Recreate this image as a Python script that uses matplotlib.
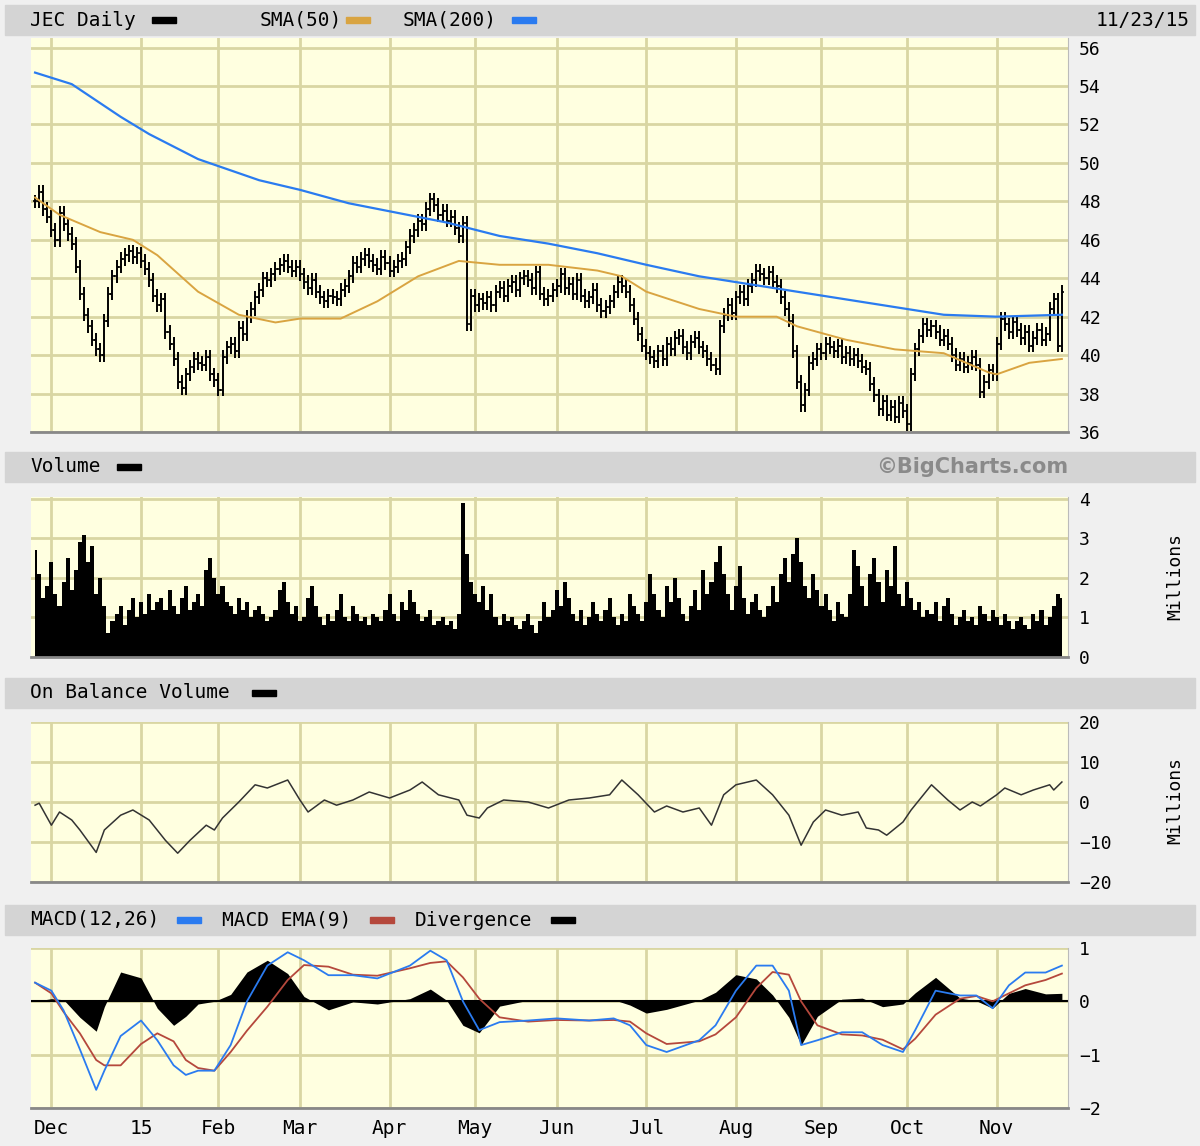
import numpy as np
import matplotlib.pyplot as plt
from matplotlib.patches import Rectangle

# daily closes, index 0 = first bar (late Nov 2014), 252 = 11/23/15
close = [
    48.0, 48.5, 47.6, 47.2, 46.5, 46.0, 47.4, 46.8, 46.3, 45.8,
    44.6, 43.2, 42.1, 41.5, 40.8, 40.3, 40.0, 41.8, 43.2, 44.1,
    44.6, 45.0, 45.2, 45.4, 45.1, 45.3, 44.9, 44.5, 43.9, 43.1,
    42.6, 42.9, 41.2, 40.6, 39.8, 38.6, 38.3, 39.0, 39.4, 39.8,
    39.6, 39.5, 39.9, 39.0, 38.7, 38.2, 39.9, 40.4, 40.6, 40.2,
    41.4, 41.1, 42.0, 42.4, 43.0, 43.4, 44.0, 43.9, 44.2, 44.5,
    44.7, 44.9, 44.6, 44.4, 44.6, 44.2, 43.8, 43.5, 43.9, 43.3,
    43.0, 42.8, 43.1, 43.0, 42.9, 43.4, 43.6, 44.1, 44.8, 44.6,
    45.0, 45.2, 44.9, 44.7, 44.5, 45.1, 44.8, 44.4, 44.6, 44.9,
    45.0, 45.6, 46.2, 46.5, 47.0, 46.8, 47.6, 48.1, 47.8, 47.3,
    47.5, 47.0, 47.2, 46.6, 46.2, 46.9, 41.6, 43.1, 42.6, 42.9,
    42.7, 43.0, 42.6, 43.3, 43.5, 43.1, 43.6, 43.8, 43.4, 44.0,
    44.1, 43.9, 43.5, 44.3, 43.2, 42.9, 43.1, 43.4, 43.6, 44.2,
    43.5, 43.7, 43.2, 43.9, 43.1, 42.8, 43.0, 43.4, 42.6, 42.3,
    42.5, 42.8, 43.3, 43.8, 43.6, 43.3, 42.6, 41.9, 41.1, 40.5,
    40.1, 39.9, 39.7, 40.2, 39.8, 40.6, 40.3, 40.9, 41.0, 40.4,
    40.1, 40.7, 40.9, 40.4, 40.2, 39.8, 39.5, 39.3, 41.5, 42.1,
    42.6, 42.2, 43.0, 43.3, 42.9, 43.6, 43.9, 44.4, 44.2, 44.0,
    44.3, 43.8, 43.6, 43.0, 42.4, 41.8, 40.2, 38.6, 37.4, 38.2,
    39.6, 39.8, 40.3, 40.1, 40.6, 40.4, 40.2, 40.5, 39.9, 40.1,
    39.8, 40.0, 39.7, 39.4, 39.3, 38.5, 37.9, 37.2, 37.6, 36.9,
    37.3, 36.8, 37.5, 37.1, 36.4, 39.0, 40.3, 41.0, 41.6, 41.3,
    41.5, 41.2, 40.8, 41.0, 40.6, 40.0, 39.5, 39.8, 39.4, 39.6,
    39.9, 39.5, 38.1, 38.6, 39.2, 39.0, 40.6, 41.9, 41.6, 41.2,
    41.7, 41.3, 40.9, 41.2, 40.5, 40.9, 41.3, 40.8, 41.1, 42.4,
    42.9, 40.5, 43.3,
]

# daily volume, millions
volume = [
    2.7, 2.1, 1.5, 1.8, 2.4, 1.6, 1.3, 1.9, 2.5, 1.7,
    2.2, 2.9, 3.1, 2.4, 2.8, 1.6, 2.0, 1.3, 0.6, 0.9,
    1.1, 1.3, 0.8, 1.2, 1.5, 1.0, 1.4, 1.1, 1.6, 1.2,
    1.4, 1.5, 1.2, 1.7, 1.3, 1.1, 1.5, 1.8, 1.2, 1.4,
    1.6, 1.3, 2.2, 2.5, 2.0, 1.6, 1.8, 1.4, 1.3, 1.1,
    1.5, 1.2, 1.4, 1.0, 1.2, 1.3, 1.1, 0.9, 1.0, 1.2,
    1.7, 1.9, 1.4, 1.1, 1.3, 0.9, 1.0, 1.5, 1.8, 1.3,
    1.0, 0.8, 1.1, 0.9, 1.2, 1.6, 1.0, 0.9, 1.3, 1.1,
    0.9, 1.0, 0.8, 1.1, 1.0, 0.9, 1.2, 1.6, 1.1, 0.9,
    1.4, 1.2, 1.7, 1.4, 1.1, 0.9, 1.0, 1.2, 0.8, 0.9,
    1.0, 0.8, 0.9, 0.7, 1.1, 3.9, 2.6, 1.9, 1.6, 1.4,
    1.8, 1.2, 1.6, 1.0, 0.8, 1.1, 0.9, 1.0, 0.8, 0.7,
    0.9, 1.1, 0.8, 0.6, 0.9, 1.4, 1.0, 1.2, 1.7, 1.3,
    1.9, 1.5, 1.1, 0.9, 1.2, 0.8, 1.0, 1.4, 1.1, 0.9,
    1.2, 1.5, 1.0, 0.8, 1.1, 0.9, 1.6, 1.3, 1.1, 0.9,
    1.4, 2.1, 1.6, 1.2, 1.0, 1.8, 1.4, 2.0, 1.5, 1.1,
    0.9, 1.3, 1.7, 1.2, 2.2, 1.6, 1.9, 2.4, 2.8, 2.1,
    1.6, 1.2, 1.8, 2.3, 1.5, 1.1, 1.4, 1.6, 1.2, 1.0,
    1.3, 1.8, 1.4, 2.1, 2.5, 1.9, 2.6, 3.0, 2.4, 1.8,
    1.5, 2.1, 1.7, 1.3, 1.6, 1.2, 0.9, 1.4, 1.1, 1.0,
    1.6, 2.7, 2.3, 1.8, 1.3, 2.1, 2.5, 1.9, 1.4, 2.2,
    1.8, 2.8, 1.6, 1.3, 1.9, 1.5, 1.2, 1.4, 1.0, 1.2,
    1.1, 1.4, 0.9, 1.3, 1.5, 1.1, 0.8, 1.0, 1.2, 0.9,
    1.0, 0.8, 1.3, 1.1, 0.9, 1.2, 1.0, 0.8, 1.1, 0.9,
    0.7, 0.9, 1.0, 0.8, 0.7, 1.1, 0.9, 1.2, 0.8, 1.0,
    1.3, 1.6, 1.5,
]

sma200_idx = [0, 9, 21, 28, 40, 55, 65, 77, 89, 101, 114, 126, 138, 150, 163, 175, 187, 199, 211, 223, 236, 252]
sma200 = [54.7, 54.1, 52.4, 51.5, 50.2, 49.1, 48.6, 47.9, 47.4, 46.9, 46.2, 45.8, 45.3, 44.7, 44.1, 43.7, 43.3, 42.9, 42.5, 42.1, 42.0, 42.1]

sma50_idx = [0, 6, 16, 24, 30, 40, 50, 59, 65, 75, 84, 94, 104, 114, 126, 138, 144, 150, 163, 172, 182, 187, 199, 211, 223, 234, 236, 244, 252]
sma50 = [48.2, 47.3, 46.4, 46.0, 45.2, 43.3, 42.1, 41.7, 41.9, 41.9, 42.8, 44.1, 44.9, 44.7, 44.7, 44.4, 44.1, 43.3, 42.4, 42.0, 42.0, 41.5, 40.8, 40.3, 40.1, 39.1, 39.0, 39.6, 39.8]

obv_idx = [0, 1, 4, 6, 9, 11, 15, 17, 21, 24, 28, 32, 35, 38, 42, 44, 46, 50, 54, 57, 62, 65, 67, 71, 74, 78, 82, 87, 92, 95, 99,
           104, 106, 109, 111, 115, 121, 126, 131, 136, 141, 144, 148, 152, 155, 159, 163, 166, 169, 172, 177, 181, 185, 188,
           191, 194, 198, 202, 204, 207, 209, 213, 215, 220, 224, 227, 230, 232, 236, 238, 242, 245, 249, 250, 252]
obv = [-0.8, -0.3, -5.8, -2.5, -4.5, -7.0, -12.6, -7.0, -3.3, -2.0, -4.5, -9.6, -12.8, -9.6, -5.8, -7.0, -4.0, 0.0, 4.3, 3.5, 5.5, 0.5, -2.5, 0.5, -0.8, 0.5, 2.5, 1.0, 3.0, 5.0, 1.8,
       0.5, -3.3, -4.0, -1.5, 0.5, 0.0, -1.5, 0.5, 1.0, 1.8, 5.5, 1.8, -2.5, -1.0, -2.5, -1.5, -5.8, 1.8, 4.3, 5.5, 1.8, -3.3, -10.8,
       -5.0, -2.0, -3.3, -2.5, -6.5, -7.0, -8.3, -5.0, -2.0, 4.3, 0.5, -2.0, 0.0, -1.0, 1.8, 3.5, 1.8, 3.0, 4.3, 3.0, 5.0]

macd_idx = [0, 4, 7, 11, 15, 17, 21, 26, 30, 34, 37, 40, 44, 48, 52, 57, 62, 66, 72, 78, 84, 92, 97, 101, 105, 109, 114, 121,
            128, 136, 142, 146, 150, 155, 163, 167, 172, 177, 181, 185, 188, 192, 198, 203, 208, 213, 216, 221, 227, 231, 235,
            239, 243, 248, 252]
macd = [0.35, 0.2, -0.17, -0.9, -1.66, -1.3, -0.65, -0.36, -0.73, -1.2, -1.38, -1.3, -1.3, -0.82, 0.0, 0.67, 0.92, 0.77, 0.49,
        0.49, 0.43, 0.67, 0.95, 0.77, 0.0, -0.54, -0.39, -0.36, -0.32, -0.36, -0.32, -0.45, -0.82, -0.95, -0.73, -0.45, 0.2,
        0.67, 0.67, 0.2, -0.82, -0.73, -0.58, -0.58, -0.82, -0.95, -0.54, 0.2, 0.11, 0.11, -0.13, 0.3, 0.54, 0.54, 0.67]
signal = [0.35, 0.15, -0.2, -0.6, -1.1, -1.2, -1.2, -0.8, -0.6, -0.75, -1.1, -1.25, -1.3, -0.95, -0.55, -0.1, 0.4, 0.68, 0.65,
          0.5, 0.48, 0.62, 0.72, 0.75, 0.45, 0.05, -0.3, -0.38, -0.35, -0.36, -0.35, -0.38, -0.6, -0.8, -0.75, -0.62, -0.3,
          0.25, 0.55, 0.5, 0.0, -0.45, -0.62, -0.64, -0.72, -0.9, -0.7, -0.25, 0.05, 0.1, 0.0, 0.15, 0.3, 0.4, 0.52]

month_idx = [4, 26, 45, 65, 87, 108, 128, 150, 172, 193, 214, 236]
month_lbl = ["Dec", "15", "Feb", "Mar", "Apr", "May", "Jun", "Jul", "Aug", "Sep", "Oct", "Nov"]

W, H = 1200, 1146
BG = "#f0f0f0"
PANEL = "#ffffe0"
GRID = "#d9d6a3"
BAR = "#d4d4d4"
MONO = "DejaVu Sans Mono"

fig = plt.figure(figsize=(12, 11.46), dpi=100, facecolor=BG)

def fx(px):
    return px / W

def fy(py):
    return 1 - py / H

def make_ax(top, bot):
    ax = fig.add_axes([fx(31), fy(bot), fx(1068) - fx(31), (bot - top) / H])
    ax.set_facecolor(PANEL)
    ax.set_xlim(-1, 253.5)
    ax.set_xticks(month_idx)
    ax.set_xticklabels([])
    ax.tick_params(length=0, labelsize=13, labelright=True, labelleft=False, pad=8)
    ax.yaxis.tick_right()
    for lbl in ax.get_yticklabels():
        lbl.set_family(MONO)
    ax.grid(True, color=GRID, lw=2)
    ax.set_axisbelow(True)
    for s in ax.spines.values():
        s.set_visible(False)
    ax.spines["bottom"].set_visible(True)
    ax.spines["bottom"].set_color("#888888")
    ax.spines["bottom"].set_linewidth(2)
    ax.spines["right"].set_visible(True)
    ax.spines["right"].set_color("#bbbbbb")
    return ax

def header(top, bot):
    fig.patches.append(Rectangle((fx(5), fy(bot)), fx(1190), (bot - top) / H,
                                 transform=fig.transFigure, color=BAR, zorder=0))

def label(px, py, txt, **kw):
    fig.text(fx(px), fy(py), txt, fontsize=14, family=MONO, va="center", **kw)

def swatch(px, py, color, w=24):
    fig.patches.append(Rectangle((fx(px), fy(py + 3)), fx(w), 6 / H,
                                 transform=fig.transFigure, color=color, zorder=2))

# headers
header(5, 35)
label(30, 20, "JEC Daily")
swatch(152, 20, "black")
label(260, 20, "SMA(50)")
swatch(346, 20, "#d9a441")
label(403, 20, "SMA(200)")
swatch(512, 20, "#2a7bf0")
label(1190, 20, "11/23/15", ha="right")

header(452, 482)
label(30, 467, "Volume")
swatch(117, 467, "black")
fig.text(fx(1068), fy(467), "\u00a9BigCharts.com", fontsize=15, fontweight="bold",
         color="#8a8a8a", ha="right", va="center")

header(678, 708)
label(30, 693, "On Balance Volume")
swatch(252, 693, "black")

header(905, 935)
label(30, 920, "MACD(12,26)")
swatch(177, 920, "#2a7bf0")
label(222, 920, "MACD EMA(9)")
swatch(370, 920, "#b5483c")
label(415, 920, "Divergence")
swatch(551, 920, "black")

# price panel
ax1 = make_ax(38, 432)
ax1.set_ylim(36, 56.5)
ax1.set_yticks(range(36, 57, 2))
for lbl in ax1.get_yticklabels():
    lbl.set_family(MONO)
x = np.arange(len(close))
c = np.array(close)
o = np.concatenate([[c[0]], c[:-1]])
hi = np.maximum(o, c) + 0.35
lo = np.minimum(o, c) - 0.35
ax1.vlines(x, lo, hi, color="black", lw=1.4)
ax1.hlines(o, x - 0.6, x, color="black", lw=1.2)
ax1.hlines(c, x, x + 0.6, color="black", lw=1.2)
ax1.plot(sma50_idx, sma50, color="#d9a441", lw=1.4)
ax1.plot(sma200_idx, sma200, color="#2a7bf0", lw=1.6)

# volume panel
ax2 = make_ax(497, 657)
ax2.set_ylim(0, 4.05)
ax2.set_yticks([0, 1, 2, 3, 4])
for lbl in ax2.get_yticklabels():
    lbl.set_family(MONO)
ax2.fill_between(x, 0, volume, step="mid", color="black", lw=0)
fig.text(fx(1175), fy(577), "Millions", rotation=90, fontsize=13, family=MONO, ha="center", va="center")

# OBV panel
ax3 = make_ax(722, 882)
ax3.set_ylim(-20, 20)
ax3.set_yticks([-20, -10, 0, 10, 20])
for lbl in ax3.get_yticklabels():
    lbl.set_family(MONO)
ax3.plot(obv_idx, obv, color="#333333", lw=1.1)
fig.text(fx(1175), fy(800), "Millions", rotation=90, fontsize=13, family=MONO, ha="center", va="center")

# MACD panel
ax4 = make_ax(948, 1108)
ax4.set_ylim(-2, 1)
ax4.set_yticks([-2, -1, 0, 1])
for lbl in ax4.get_yticklabels():
    lbl.set_family(MONO)
div = np.array(macd) - np.array(signal)
ax4.fill_between(macd_idx, 0, div, color="black", lw=0)
ax4.axhline(0, color="black", lw=1.5)
ax4.plot(macd_idx, signal, color="#b5483c", lw=1.3)
ax4.plot(macd_idx, macd, color="#2a7bf0", lw=1.3)
ax4.set_xticklabels(month_lbl, family=MONO, fontsize=14)
ax4.tick_params(axis="x", pad=8)

fig.savefig("out.png", dpi=100, facecolor=BG)
